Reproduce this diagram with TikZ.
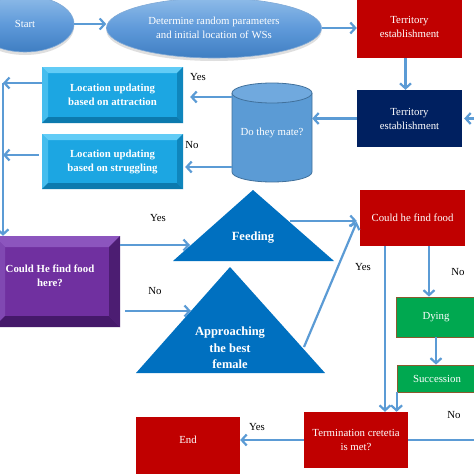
\documentclass[tikz,border=0pt]{standalone}
\usepackage{fontspec}
\setmainfont{Liberation Serif}
\usetikzlibrary{arrows.meta,shapes.geometric,shadows}
\definecolor{boxRed}{HTML}{C00000}
\definecolor{boxNavy}{HTML}{002060}
\definecolor{boxGreen}{HTML}{00A850}
\definecolor{greenEdge}{HTML}{8A5A2E}
\definecolor{triBlue}{HTML}{0070C0}
\definecolor{arrBlue}{HTML}{5B9BD5}
\definecolor{ellLight}{HTML}{8EBBE8}
\definecolor{ellMid}{HTML}{5F9ADA}
\definecolor{ellDark}{HTML}{3F7EC2}
\definecolor{ellEdge}{HTML}{7FA9D6}
\definecolor{cylBody}{HTML}{5B9BD5}
\definecolor{cylTop}{HTML}{70A9DE}
\definecolor{cylEdge}{HTML}{41719C}
\definecolor{cyMain}{HTML}{1CA6E2}
\definecolor{cyTop}{HTML}{62CCF6}
\definecolor{cyLeft}{HTML}{45BDEE}
\definecolor{cyRight}{HTML}{0F86BD}
\definecolor{cyBottom}{HTML}{0C7AAE}
\definecolor{puMain}{HTML}{7030A0}
\definecolor{puTop}{HTML}{8C55BE}
\definecolor{puLeft}{HTML}{8048B2}
\definecolor{puRight}{HTML}{4C1D72}
\definecolor{puBottom}{HTML}{45196A}
\newcommand\bevelrect[6]{%
  \fill[#6Main] (#1,#2) rectangle (#3,#4);
  \fill[#6Top] (#1,#2) -- (#3,#2) -- (#3-#5,#2+#5) -- (#1+#5,#2+#5) -- cycle;
  \fill[#6Left] (#1,#2) -- (#1+#5,#2+#5) -- (#1+#5,#4-#5) -- (#1,#4) -- cycle;
  \fill[#6Right] (#3,#2) -- (#3,#4) -- (#3-#5,#4-#5) -- (#3-#5,#2+#5) -- cycle;
  \fill[#6Bottom] (#1,#4) -- (#3,#4) -- (#3-#5,#4-#5) -- (#1+#5,#4-#5) -- cycle;
}
\begin{document}
\begin{tikzpicture}[x=1pt,y=-1pt,
  txt/.style={font=\fontsize{10.8}{14}\selectfont, align=center, inner sep=0pt},
  btxt/.style={font=\fontsize{10.8}{14}\selectfont\bfseries, align=center, inner sep=0pt, text=white},
  ttxt/.style={font=\fontsize{12.5}{16.5}\selectfont\bfseries, align=center, inner sep=0pt, text=white},
  plainbox/.style={txt, rectangle, text=white},
  redbox/.style={plainbox, fill=boxRed},
  navybox/.style={plainbox, fill=boxNavy},
  greenbox/.style={plainbox, fill=boxGreen, draw=greenEdge, line width=0.8pt},
  ell/.style={txt, ellipse, text=white, draw=ellEdge, line width=0.6pt,
    top color=ellLight, bottom color=ellDark, middle color=ellMid,
    drop shadow={opacity=0.25, shadow xshift=0pt, shadow yshift=-3pt}},
  lbl/.style={txt, text=black},
  arr/.style={draw=arrBlue, line width=2.2pt, -{Straight Barb[length=5pt,width=11pt]}},
  tri/.style={fill=triBlue}
]
\useasboundingbox (0,0) rectangle (474,474);
\clip (0,0) rectangle (474,474);
\fill[white] (0,0) rectangle (474,474);

% top row
\node[ell, minimum width=98pt, minimum height=56pt] (start) at (25,24) {Start};
\node[ell, minimum width=215pt, minimum height=60pt] (ell) at (214,28)
  {Determine random parameters\\and initial location of WSs};
\node[redbox, minimum width=105pt, minimum height=62pt] (terr1) at (409.5,27)
  {Territory\\establishment};
\node[navybox, minimum width=105pt, minimum height=57pt] (terr2) at (409.5,118.5)
  {Territory\\establishment};

% cylinder
\fill[cylBody] (232,93) -- (232,172) arc[start angle=180,end angle=0,x radius=40,y radius=10] -- (312,93) -- cycle;
\draw[cylEdge, line width=0.8pt] (232,93) -- (232,172) arc[start angle=180,end angle=0,x radius=40,y radius=10] -- (312,93);
\filldraw[fill=cylTop, draw=cylEdge, line width=0.8pt] (272,93) ellipse[x radius=40, y radius=10];
\node[txt, text=white, minimum width=80pt, minimum height=99pt] (cyl) at (272,132.5) {Do they mate?};

% bevel boxes
\bevelrect{42}{67}{183}{123}{6}{cy}
\node[btxt, minimum width=141pt, minimum height=56pt] (att) at (112.5,95)
  {Location updating\\based on attraction};
\bevelrect{42}{134}{183}{189}{6}{cy}
\node[btxt, minimum width=141pt, minimum height=55pt] (strug) at (112.5,161.5)
  {Location updating\\based on struggling};
\bevelrect{-6}{236}{120}{327}{11}{pu}
\node[btxt, minimum width=126pt, minimum height=91pt] (pur) at (57,281.5) {};
\node[btxt] (purtxt) at (50,276) {Could He find food\\here?};

% triangles
\fill[tri] (253,190) -- (334,261) -- (173,261) -- cycle;
\node[ttxt] (feed) at (253,238) {Feeding};
\fill[tri] (230,267) -- (325,373) -- (136,373) -- cycle;
\node[ttxt] (appr) at (230,348) {Approaching\\the best\\female};
\coordinate (feedL) at (190,245);
\coordinate (feedR) at (290,221);
\coordinate (appL) at (191,311);
\coordinate (appR) at (304,347);

% right column
\node[redbox, minimum width=105pt, minimum height=56pt] (could) at (412.5,218)
  {Could he find food};
\node[greenbox, minimum width=80pt, minimum height=40pt] (dying) at (436,317) {Dying};
\node[greenbox, minimum width=80pt, minimum height=27pt] (succ) at (437,378.5) {Succession};
\node[redbox, minimum width=104pt, minimum height=56pt] (term) at (356,440)
  {Termination cretetia\\is met?};
\node[redbox, minimum width=104pt, minimum height=60pt] (endb) at (188,447) {};
\node[txt, text=white] (endtxt) at (188,440) {End};

% connectors
\draw[arr] (start.east) -- (start.east -| ell.west);
\draw[arr] (ell.east) -- (ell.east -| terr1.west);
\coordinate (t1s) at ([xshift=-4pt]terr1.south);
\draw[arr] (t1s) -- (t1s |- terr2.north);
\draw[arr] (terr2.west) -- (terr2.west -| cyl.east);
\coordinate (cylYes) at ([yshift=35.5pt]cyl.west);
\coordinate (cylNo) at ([yshift=-34.5pt]cyl.west);
\draw[arr, shorten >=7pt] (cylYes) -- (cylYes -| att.east);
\draw[arr, shorten >=2pt] (cylNo) -- (cylNo -| strug.east);
\coordinate (lt) at (3,83);
\coordinate (lm) at (3,155);
\draw[arr] (lt -| att.west) -- (lt);
\draw[arr, shorten <=3pt] (lm -| strug.west) -- (lm);
\draw[arr] (lt) -- (lt |- pur.north);
\draw[arr] (feedL -| pur.east) -- (feedL);
\draw[arr, shorten <=5pt] (appL -| pur.east) -- (appL);
\coordinate (couldIn) at ([xshift=-3pt,yshift=-4pt]could.west);
\draw[arr] (feedR) -- (feedR -| couldIn);
\draw[arr] (appR) -- (couldIn);
\coordinate (cY) at ([xshift=-27.5pt]could.south);
\coordinate (cN) at ([xshift=16.5pt]could.south);
\draw[arr] (cY) -- (cY |- term.north);
\draw[arr] (cN) -- (cN |- dying.north);
\draw[arr] (dying.south) -- (dying.south |- succ.north);
\draw[arr] (succ.south west) -- (succ.south west |- term.north);
\draw[arr] (term.west) -- (term.west -| endb.east);
\coordinate (rt) at (480,440);
\draw[arr, shorten >=2pt] (term.east) -- (rt) |- (terr2.east);

% labels
\node[lbl] (l1) at (198,77) {Yes};
\node[lbl] (l2) at (192,145) {No};
\node[lbl] (l3) at (158,218) {Yes};
\node[lbl] (l4) at (155,291) {No};
\node[lbl] (l5) at (363,267) {Yes};
\node[lbl] (l6) at (458,272) {No};
\node[lbl] (l7) at (257,427) {Yes};
\node[lbl] (l8) at (454,415) {No};
\end{tikzpicture}
\end{document}
